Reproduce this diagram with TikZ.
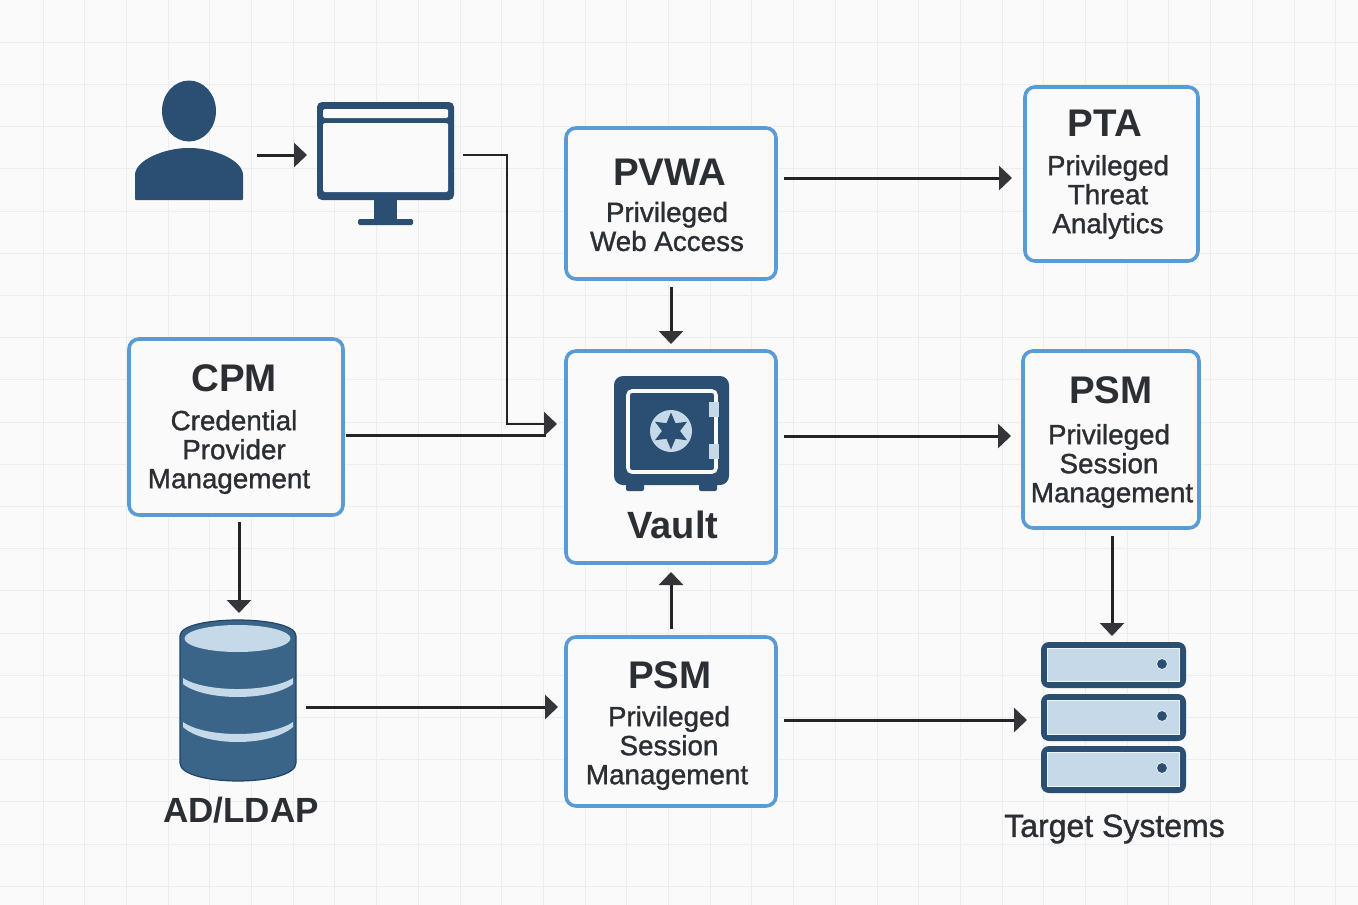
\documentclass[tikz,border=0pt]{standalone}
\usepackage{fontspec}
\setmainfont{Liberation Sans}
\newfontfamily\medfont[FakeBold=1.2]{Liberation Sans}
\usetikzlibrary{arrows.meta}
\definecolor{bgc}{HTML}{FAFAFB}
\definecolor{gridc}{HTML}{ECEDEF}
\definecolor{boxc}{HTML}{5B9BD5}
\definecolor{navy}{HTML}{2A4F73}
\definecolor{dbc}{HTML}{3B6489}
\definecolor{dbline}{HTML}{1F4468}
\definecolor{pale}{HTML}{C5D9E8}
\definecolor{ink}{HTML}{2B2E33}
\definecolor{wire}{HTML}{222426}
\definecolor{headc}{HTML}{333538}
\tikzset{
  x=1pt,y=-1pt,
  panel/.style={draw=boxc,line width=3.6pt,fill=bgc,rounded corners=10pt,inner sep=0,outer sep=0},
  anchorbox/.style={inner sep=0,outer sep=0},
  title/.style={font=\bfseries\fontsize{38.5}{38}\selectfont,text=ink,inner sep=0},
  sub/.style={font=\medfont\fontsize{27.8}{29}\selectfont,text=ink,inner sep=0,align=center},
  arr/.style={draw=wire,line width=3pt,-{Triangle[length=13pt,width=24pt,fill=headc,color=headc]}},
  plainwire/.style={draw=wire,line width=3pt},
}
\begin{document}
\begin{tikzpicture}
\useasboundingbox (0,0) rectangle (1358,905);
\fill[bgc] (0,0) rectangle (1358,905);
\foreach \k in {1,...,32} \draw[gridc,line width=1pt] ({1.3+41.7*\k},0) -- ({1.3+41.7*\k},905);
\foreach \k in {1,...,21} \draw[gridc,line width=1pt] (0,{42.2*\k}) -- (1358,{42.2*\k});

% boxes
\node[panel,minimum width=210pt,minimum height=151pt] (pvwa) at (671,203.5) {};
\node[panel,minimum width=173pt,minimum height=174pt] (pta) at (1111.5,174) {};
\node[panel,minimum width=210pt,minimum height=212pt] (vault) at (671,457) {};
\node[panel,minimum width=214pt,minimum height=176pt] (cpm) at (236,427) {};
\node[panel,minimum width=176pt,minimum height=177pt] (psmr) at (1111,439.5) {};
\node[panel,minimum width=210pt,minimum height=169pt] (psmb) at (671,721.5) {};
\node[anchorbox,minimum width=108pt,minimum height=119pt] (user) at (189,140.5) {};
\node[anchorbox,minimum width=137pt,minimum height=123pt] (mon) at (385.5,163.5) {};
\node[anchorbox,minimum width=116pt,minimum height=161pt] (db) at (238,700.5) {};
\node[anchorbox,minimum width=145pt,minimum height=151pt] (srv) at (1113.5,717.5) {};

% texts
\node[title] (t1) at (670,172.5) {PVWA};
\node[sub] (s1) at (667,226.5) {Privileged\\Web Access};
\node[title] (t2) at (1105,123.5) {PTA};
\node[sub] (s2) at (1108,197) {Privileged\\Threat\\Analytics};
\node[title] (t3) at (234,378.5) {CPM};
\node[sub] (s3) at (234,452) {Credential\\Provider\\Management\hspace*{10pt}};
\node[title] (t4) at (1111,390.5) {PSM};
\node[sub] (s4) at (1109,466) {Privileged\\Session\\\hspace*{6pt}Management};
\node[title] (t5) at (670,675.5) {PSM};
\node[sub] (s5) at (669,748) {Privileged\\Session\\Management\hspace*{4pt}};
\node[font=\bfseries\fontsize{38}{37}\selectfont,text=ink,inner sep=0] (t6) at (673,525) {Vault};
\node[font=\bfseries\fontsize{35}{36}\selectfont,text=ink,inner sep=0] (t7) at (241,810) {AD/LDAP};
\node[font=\medfont\fontsize{32}{32}\selectfont,text=ink,inner sep=0] (t8) at (1114.5,829) {Target Systems};

% user icon
\fill[navy] (189,111) ellipse [x radius=27pt,y radius=30.5pt];
\fill[navy,rounded corners=1pt] (135,200) -- (135,176) .. controls (135,160) and (165,148) .. (189,148) .. controls (213,148) and (243,160) .. (243,176) -- (243,200) -- cycle;

% monitor icon
\fill[navy,rounded corners=1.5pt] (358,219) rectangle (413,225);
\fill[navy] (374,198) rectangle (397,220);
\fill[navy,rounded corners=5pt] (317,102) rectangle (454,200);
\fill[bgc,rounded corners=1.5pt] (323,109) rectangle (448,118);
\fill[bgc,rounded corners=1.5pt] (323,123) rectangle (448,192);

% vault icon
\fill[navy,rounded corners=2pt] (626,480) rectangle (644,491);
\fill[navy,rounded corners=2pt] (699,480) rectangle (717,491);
\fill[navy,rounded corners=9pt] (614,376) rectangle (729,485);
\draw[bgc,line width=3.6pt,rounded corners=4pt] (628,391) rectangle (716,472);
\fill[pale] (709,402) rectangle (719,417);
\fill[pale] (709,444) rectangle (719,459);
\fill[pale] (671,431) circle [radius=21pt];
\begin{scope}[shift={(671,431)}]
\fill[navy] (90:18.5) -- (120:9) -- (150:18.5) -- (180:9) -- (210:18.5) -- (240:9) -- (270:18.5) -- (300:9) -- (330:18.5) -- (0:9) -- (30:18.5) -- (60:9) -- cycle;
\end{scope}

% database icon
\filldraw[fill=dbc,draw=dbline,line width=1.2pt] (180,636) .. controls (180,625) and (210,620) .. (238,620) .. controls (266,620) and (296,625) .. (296,636) -- (296,763) .. controls (296,775) and (266,781) .. (238,781) .. controls (210,781) and (180,775) .. (180,763) -- cycle;
\fill[pale] (237.5,638.5) ellipse [x radius=53pt,y radius=13.5pt];
\fill[pale] (183,678) .. controls (205,692.7) and (270,692.7) .. (293,678) -- (293,684) .. controls (270,701.3) and (205,701.3) .. (183,684) -- cycle;
\fill[pale] (183,722) .. controls (205,738) and (270,738) .. (293,722) -- (293,727) .. controls (270,747) and (205,747) .. (183,727) -- cycle;

% server icon
\foreach \yt/\yb/\yd in {642/688/664,694/741/716,746/793/768} {
  \fill[navy,rounded corners=8pt] (1041,\yt) rectangle (1186,\yb);
  \filldraw[fill=pale,draw=white!70!pale,line width=0.8pt] (1047.5,\yt+6.5) rectangle (1179,\yb-6.5);
  \filldraw[fill=navy,draw=white!60!pale,line width=0.8pt] (1162,\yd) circle [radius=5.5pt];
}

% connectors
\draw[arr] ([shift={(14,14.5)}]user.east) -- ([shift={(-10,-8.5)}]mon.west);
\coordinate (elbow) at (507,424);
\draw[arr,line width=2.4pt] ([shift={(9,-8.5)}]mon.east) -| (elbow) -- ([shift={(-9,-33)}]vault.west);
\draw[plainwire] ([shift={(3,8)}]cpm.east) -- ([shift={(-20,-22)}]vault.west);
\draw[arr] ([shift={(8,-25.5)}]pvwa.east) -- ([shift={(-13,4)}]pta.west);
\draw[arr] ([shift={(0,8)}]pvwa.south) -- ([shift={(0,-7)}]vault.north);
\draw[arr] ([shift={(0,-8)}]psmb.north) -- ([shift={(0,9)}]vault.south);
\draw[arr] ([shift={(8,-21)}]vault.east) -- ([shift={(-12,-3.5)}]psmr.west);
\draw[arr] ([shift={(3,7)}]cpm.south) -- ([shift={(1,-7)}]db.north);
\draw[arr] ([shift={(10,6.5)}]db.east) -- ([shift={(-8,-14.5)}]psmb.west);
\draw[arr] ([shift={(8,-1.5)}]psmb.east) -- ([shift={(-14,2.5)}]srv.west);
\draw[arr] ([shift={(1,8)}]psmr.south) -- ([shift={(-1.5,-6)}]srv.north);
\end{tikzpicture}
\end{document}
